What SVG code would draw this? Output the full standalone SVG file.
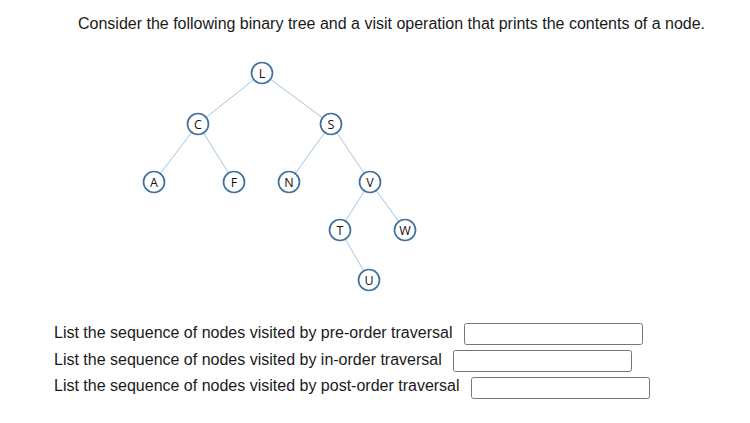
<svg xmlns="http://www.w3.org/2000/svg" width="750" height="423" viewBox="0 0 750 423">
<style>
.t{font-family:"Liberation Sans",Arial,sans-serif;font-size:16px;fill:#1a1a1a}
.n circle{fill:#fff;stroke:#41719c;stroke-width:1.7}
.n text{font-family:"Open Sans","Liberation Sans",sans-serif;font-size:12.5px;fill:#111;text-anchor:middle}
.e line{stroke:#a4c4e6;stroke-width:1}
.box{fill:#fff;stroke:#767676;stroke-width:1}
</style>
<rect width="750" height="423" fill="#fff"/>
<text class="t" x="78" y="29">Consider the following binary tree and a visit operation that prints the contents of a node.</text>
<g id="connectors" class="e">
<line x1="253.4" y1="79.9" x2="206.6" y2="117.1"/>
<line x1="270.8" y1="79.5" x2="322.2" y2="117.5"/>
<line x1="191.4" y1="132.8" x2="160.6" y2="173.2"/>
<line x1="203.8" y1="133.3" x2="228.2" y2="172.7"/>
<line x1="324.5" y1="132.9" x2="295.5" y2="173.1"/>
<line x1="337.1" y1="133.1" x2="363.9" y2="172.9"/>
<line x1="364.2" y1="191.3" x2="345.8" y2="220.7"/>
<line x1="376.5" y1="190.9" x2="398.5" y2="221.1"/>
<line x1="345.5" y1="239.5" x2="363.5" y2="270.5"/>
</g>
<g id="node-L" class="n"><circle cx="262" cy="73" r="10.5"/><text x="262" y="77.5">L</text></g>
<g id="node-C" class="n"><circle cx="198" cy="124" r="10.5"/><text x="198" y="128.5">C</text></g>
<g id="node-S" class="n"><circle cx="331" cy="124" r="10.5"/><text x="331" y="128.5">S</text></g>
<g id="node-A" class="n"><circle cx="154" cy="182" r="10.5"/><text x="154" y="186.5">A</text></g>
<g id="node-F" class="n"><circle cx="234" cy="182" r="10.5"/><text x="234" y="186.5">F</text></g>
<g id="node-N" class="n"><circle cx="289" cy="182" r="10.5"/><text x="289" y="186.5">N</text></g>
<g id="node-V" class="n"><circle cx="370" cy="182" r="10.5"/><text x="370" y="186.5">V</text></g>
<g id="node-T" class="n"><circle cx="340" cy="230" r="10.5"/><text x="340" y="234.5">T</text></g>
<g id="node-W" class="n"><circle cx="405" cy="230" r="10.5"/><text x="405" y="234.5">W</text></g>
<g id="node-U" class="n"><circle cx="369" cy="280" r="10.5"/><text x="369" y="284.5">U</text></g>
<g id="questions">
<text class="t" x="54" y="338">List the sequence of nodes visited by pre-order traversal</text>
<rect class="box" x="464.5" y="323.5" width="178" height="21" rx="2"/>
<text class="t" x="54" y="364.5">List the sequence of nodes visited by in-order traversal</text>
<rect class="box" x="453.5" y="350.5" width="178" height="21" rx="2"/>
<text class="t" x="54" y="391">List the sequence of nodes visited by post-order traversal</text>
<rect class="box" x="471.5" y="377.5" width="178" height="21" rx="2"/>
</g>
</svg>
